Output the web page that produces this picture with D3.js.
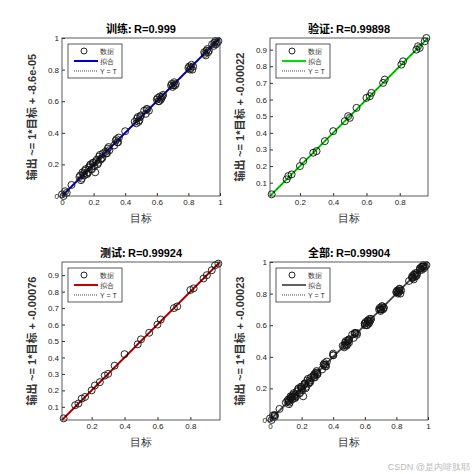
<!DOCTYPE html><html><head><meta charset="utf-8"><script src="https://cdn.jsdelivr.net/npm/d3@7"></script>
<style>body{margin:0;background:#fff}text{font-family:"Liberation Sans",Arial,sans-serif}</style></head><body><svg id="c" width="474" height="474"></svg>
<script>
const trainT=[0,0.01,0.02,0.03,0.06,0.11,0.12,0.13,0.14,0.15,0.16,0.17,0.18,0.19,0.2,0.21,0.22,0.23,0.24,0.25,0.26,0.28,0.29,0.3,0.33,0.34,0.35,0.36,0.4,0.46,0.47,0.48,0.49,0.5,0.52,0.53,0.54,0.55,0.6,0.61,0.62,0.63,0.64,0.69,0.7,0.71,0.72,0.8,0.81,0.82,0.83,0.9,0.91,0.92,0.93,0.95,0.96,0.97,0.98,0.99,
 0.115,0.125,0.135,0.145,0.155,0.165,0.175,0.185,0.195,0.205,0.215,0.225,0.235,0.245,0.255,0.275,0.285,0.295,0.345,0.355,0.475,0.485,0.495,0.535,0.605,0.615,0.625,0.635,0.695,0.705,0.715,0.805,0.815,0.825,0.905,0.915,0.925,0.965,0.975];
const trainY=[0.01,0.0,0.03,0.02,0.07,0.12,0.1,0.15,0.13,0.17,0.14,0.18,0.2,0.17,0.21,0.15,0.23,0.21,0.26,0.24,0.27,0.27,0.3,0.29,0.32,0.35,0.34,0.37,0.41,0.47,0.46,0.5,0.48,0.51,0.54,0.52,0.55,0.54,0.61,0.6,0.63,0.62,0.64,0.7,0.69,0.72,0.71,0.81,0.8,0.83,0.82,0.91,0.89,0.93,0.92,0.96,0.95,0.98,0.97,0.98,
 0.13,0.11,0.14,0.16,0.14,0.15,0.19,0.17,0.21,0.19,0.22,0.2,0.25,0.23,0.24,0.28,0.27,0.31,0.36,0.34,0.49,0.47,0.5,0.55,0.62,0.6,0.61,0.63,0.71,0.7,0.7,0.82,0.81,0.8,0.9,0.92,0.91,0.97,0.96];
const valT=[0.03,0.12,0.13,0.15,0.2,0.22,0.28,0.3,0.35,0.4,0.47,0.49,0.5,0.54,0.6,0.62,0.63,0.7,0.71,0.81,0.82,0.9,0.91,0.92,0.95,0.96];
const valY=[0.03,0.12,0.14,0.15,0.2,0.23,0.28,0.29,0.35,0.41,0.47,0.5,0.49,0.55,0.61,0.62,0.64,0.7,0.72,0.81,0.83,0.9,0.92,0.91,0.95,0.97];
const testT=[0.03,0.1,0.12,0.14,0.16,0.2,0.22,0.25,0.28,0.3,0.34,0.4,0.48,0.5,0.55,0.6,0.62,0.7,0.72,0.8,0.82,0.88,0.9,0.93,0.95,0.97];
const testY=[0.03,0.11,0.12,0.15,0.16,0.2,0.23,0.25,0.29,0.3,0.35,0.42,0.48,0.51,0.55,0.6,0.63,0.7,0.71,0.81,0.82,0.88,0.9,0.93,0.96,0.97];
const panels=[
 {t:"训练",r:"R=0.999",c:"#0000c8",b:"-8.6e-05",T:trainT,Y:trainY,dom:[0,1],ticks:[0,0.2,0.4,0.6,0.8,1],yt:[0,0.2,0.4,0.6,0.8,1],x:62,y:38},
 {t:"验证",r:"R=0.99898",c:"#00e000",b:"-0.00022",T:valT,Y:valY,dom:[0.02,0.97],ticks:[0.2,0.4,0.6,0.8],yt:[0.1,0.2,0.3,0.4,0.5,0.6,0.7,0.8,0.9],x:270,y:38},
 {t:"测试",r:"R=0.99924",c:"#c80000",b:"-0.00076",T:testT,Y:testY,dom:[0.02,0.98],ticks:[0.2,0.4,0.6,0.8],yt:[0.1,0.2,0.3,0.4,0.5,0.6,0.7,0.8,0.9],x:62,y:262},
 {t:"全部",r:"R=0.99904",c:"#606060",b:"-0.00023",T:trainT.concat(valT,testT),Y:trainY.concat(valY,testY),dom:[0,1],ticks:[0,0.2,0.4,0.6,0.8,1],yt:[0,0.2,0.4,0.6,0.8,1],x:270,y:262}];
const svg=d3.select("#c"),S=158;
panels.forEach(p=>{
 const g=svg.append("g").attr("transform",`translate(${p.x},${p.y})`);
 const x=d3.scaleLinear().domain(p.dom).range([0,S]),y=d3.scaleLinear().domain(p.dom).range([S,0]);
 g.append("rect").attr("width",S).attr("height",S).attr("fill","#fff");
 g.append("line").attr("x1",x(p.dom[0])).attr("y1",y(p.dom[0])).attr("x2",x(p.dom[1])).attr("y2",y(p.dom[1])).attr("stroke",p.c).attr("stroke-width",2);
 g.append("line").attr("x1",x(p.dom[0])).attr("y1",y(p.dom[0])).attr("x2",x(p.dom[1])).attr("y2",y(p.dom[1])).attr("stroke","#000").attr("stroke-dasharray","1,1").attr("stroke-width",0.7);
 g.selectAll("circle.d").data(p.T).enter().append("circle").attr("cx",d=>x(d)).attr("cy",(d,i)=>y(p.Y[i])).attr("r",3.5).attr("fill","none").attr("stroke","#111").attr("stroke-width",0.9);
 const ax=g.append("g").attr("transform",`translate(0,${S})`).call(d3.axisBottom(x).tickValues(p.ticks).tickFormat(d3.format("~g")).tickSizeInner(-3).tickSizeOuter(0));
 const ay=g.append("g").call(d3.axisLeft(y).tickValues(p.yt).tickFormat(d3.format("~g")).tickSizeInner(-3).tickSizeOuter(0));
 [ax,ay].forEach(a=>{a.selectAll("text").attr("font-size",8).attr("fill","#222");a.select(".domain").remove();a.selectAll("line").attr("stroke","#333");});
 g.append("rect").attr("width",S).attr("height",S).attr("fill","none").attr("stroke","#333").attr("stroke-width",0.8);
 const tt=g.append("text").attr("x",S/2).attr("y",-5).attr("text-anchor","middle").attr("font-size",11).attr("font-weight","bold");
 tt.append("tspan").attr("font-family","Noto Sans CJK SC").text(p.t+": ");tt.append("tspan").text(p.r);
 g.append("text").attr("x",S/2).attr("y",S+26).attr("text-anchor","middle").attr("font-size",11).attr("font-family","Noto Sans CJK SC").attr("fill","#333").text("目标");
 const yl=g.append("text").attr("transform",`translate(-26,${S/2}) rotate(-90)`).attr("text-anchor","middle").attr("font-size",11).attr("font-weight","bold").attr("fill","#333");
 yl.append("tspan").attr("font-family","Noto Sans CJK SC").text("输出 ");yl.append("tspan").text("~= 1*");yl.append("tspan").attr("font-family","Noto Sans CJK SC").text("目标");yl.append("tspan").text(" + "+p.b);
 const L=g.append("g").attr("transform","translate(6,6)");
 L.append("rect").attr("width",54).attr("height",34).attr("fill","#fff").attr("stroke","#333").attr("stroke-width",0.8);
 L.append("circle").attr("cx",16).attr("cy",7).attr("r",3).attr("fill","none").attr("stroke","#222");
 L.append("line").attr("x1",6).attr("x2",30).attr("y1",17).attr("y2",17).attr("stroke",p.c).attr("stroke-width",2);
 L.append("line").attr("x1",6).attr("x2",30).attr("y1",27).attr("y2",27).attr("stroke","#000").attr("stroke-dasharray","1,1").attr("stroke-width",0.7);
 [["数据",9],["拟合",19],["Y = T",29]].forEach(([s,yy])=>L.append("text").attr("x",32).attr("y",yy+1).attr("font-size",7).attr("font-family",s[0]=="Y"?"Liberation Sans":"Noto Sans CJK SC").attr("fill","#333").text(s));
});
svg.append("text").attr("x",470).attr("y",470).attr("text-anchor","end").attr("font-size",9).attr("fill","#bbb").attr("font-family","Noto Sans CJK SC").text("CSDN @是内啡肽耶");
</script></body></html>
